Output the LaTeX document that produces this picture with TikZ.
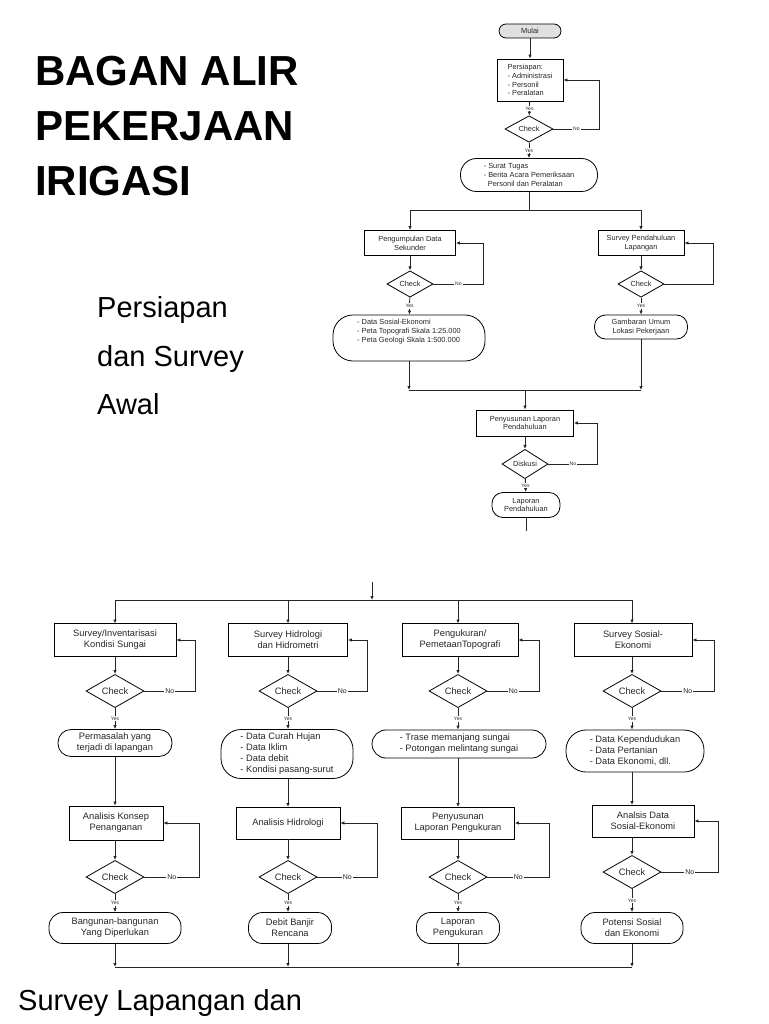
\documentclass[tikz,border=0pt]{standalone}
\usepackage{fontspec}
\setmainfont{Liberation Sans}
\usetikzlibrary{shapes.geometric,arrows.meta}
\begin{document}
\begin{tikzpicture}[x=1pt,y=-1pt,
  every node/.style={inner sep=0pt,text=black!85},
  bx/.style={draw,line width=0.8pt,align=center},
  tm/.style={draw,line width=0.8pt,rounded corners=11pt,align=center},
  dc/.style={draw,diamond,line width=0.8pt,minimum width=48pt,minimum height=20pt},
  ln/.style={line width=0.9pt,draw=black!85},
  arr/.style={ln,-{Latex[length=4pt,width=3.5pt]}},
  lbl/.style={fill=white,inner sep=1pt,font=\fontsize{5}{6}\selectfont},
  ttl/.style={anchor=base west,font=\fontsize{42}{50}\bfseries,text=black},
  sub/.style={anchor=base west,font=\fontsize{29}{35}\selectfont,text=black},
  s/.style={font=\fontsize{7.4}{8.8}\selectfont},
  m/.style={font=\fontsize{9.3}{11}\selectfont}]
\useasboundingbox (0,0) rectangle (768,1024);
% titles
\node[ttl] (t1a) at (35,86) {BAGAN ALIR};
\node[ttl] (t1b) at (35,141) {PEKERJAAN};
\node[ttl] (t1c) at (35,196) {IRIGASI};
\node[sub] (t2a) at (97,317) {Persiapan};
\node[sub] (t2b) at (97,366) {dan Survey};
\node[sub] (t2c) at (97,414) {Awal};
\node[sub] (t3) at (18,1010) {Survey Lapangan dan};
% ---------- top section ----------
\begin{scope}[s]
\node[tm,fill=black!12,rounded corners=7pt,minimum width=62pt,minimum height=14pt] (mul) at (530,31) {Mulai};
\node[bx,align=left,minimum width=66pt,minimum height=42pt] (per) at (530,80) {Persiapan:\\- Administrasi\\- Personil\\- Peralatan};
\node[dc] (c0) at (529,129) {Check};
\node[tm,align=left,minimum width=137pt,minimum height=33pt,rounded corners=16pt] (sur) at (529,175) {- Surat Tugas\\- Berita Acara Pemeriksaan\\\ \ Personil dan Peralatan};
\node[bx,minimum width=91pt,minimum height=25pt] (pd) at (410,243) {Pengumpulan Data\\Sekunder};
\node[bx,minimum width=86pt,minimum height=25pt] (sp) at (641,243) {Survey Pendahuluan\\Lapangan};
\node[dc,minimum width=46pt] (cl) at (410,284) {Check};
\node[dc,minimum width=46pt] (cr) at (641,284) {Check};
\node[tm,align=left,minimum width=152pt,minimum height=46pt,rounded corners=20pt] (ds) at (409,338) {- Data Sosial-Ekonomi\\- Peta Topografi Skala 1:25.000\\- Peta Geologi Skala 1:500.000\\[6pt]};
\node[tm,minimum width=93pt,minimum height=24pt] (gu) at (641,327) {Gambaran Umum\\Lokasi Pekerjaan};
\node[bx,minimum width=97pt,minimum height=26pt] (pl) at (525,423) {Penyusunan Laporan\\Pendahuluan};
\node[dc,minimum width=46pt] (dk) at (525,464) {Diskusi};
\node[tm,minimum width=68pt,minimum height=25pt] (lp) at (526,505) {Laporan\\Pendahuluan};
\end{scope}
\coordinate (lpe) at (526,531);
\draw[arr] (mul) -- (per);
\draw[arr] (per) -- node[lbl]{Yes} (c0);
\draw[arr] (c0.east) -- node[lbl]{No} ++(46,0) |- (per.east);
\draw[arr] (c0) -- node[lbl]{Yes} (sur);
\draw[ln] (sur.south) -- ++(0,19) coordinate (sj);
\draw[arr] (sj) -| (pd.north);
\draw[arr] (sj) -| (sp.north);
\draw[arr] (pd) -- (cl);
\draw[arr] (sp) -- (cr);
\draw[arr] (cl.east) -- node[lbl]{No} ++(50,0) |- (pd.east);
\draw[arr] (cr.east) -- ++(49,0) |- (sp.east);
\draw[arr] (cl) -- node[lbl]{Yes} (ds);
\draw[arr] (cr) -- node[lbl]{Yes} (gu);
\coordinate (mj) at (525,390);
\draw[arr] (ds.south) -- (ds.south |- mj);
\draw[arr] (gu.south) -- (gu.south |- mj);
\draw[ln] (ds.south |- mj) -- (gu.south |- mj);
\draw[arr] (mj) -- (pl);
\draw[arr] (pl) -- (dk);
\draw[arr] (dk.east) -- node[lbl]{No} ++(49,0) |- (pl.east);
\draw[arr] (dk) -- node[lbl]{Yes} (lp);
\draw[ln] (lp) -- (lpe);
% ---------- bottom section ----------
\begin{scope}[m]
\node[bx,minimum width=122pt,minimum height=33pt] (a1) at (115,640) {Survey/Inventarisasi\\Kondisi Sungai};
\node[bx,minimum width=119pt,minimum height=33pt] (a2) at (288,640) {Survey Hidrologi\\dan Hidrometri};
\node[bx,minimum width=116pt,minimum height=33pt] (a3) at (460,640) {Pengukuran/\\PemetaanTopografi};
\node[bx,minimum width=118pt,minimum height=33pt] (a4) at (633,640) {Survey Sosial-\\Ekonomi};
\foreach \i/\x in {1/115,2/288,3/458,4/632}
  \node[dc,minimum width=58pt,minimum height=24pt] (k\i) at (\x,691) {Check};
\node[tm,minimum width=114pt,minimum height=27pt,rounded corners=13pt] (r1) at (115,743) {Permasalah yang\\terjadi di lapangan};
\node[tm,align=left,minimum width=132pt,minimum height=49pt,rounded corners=20pt] (r2) at (287,754) {- Data Curah Hujan\\- Data Iklim\\- Data debit\\- Kondisi pasang-surut};
\node[tm,align=left,minimum width=174pt,minimum height=28pt,rounded corners=14pt] (r3) at (459,744) {- Trase memanjang sungai\\- Potongan melintang sungai};
\node[tm,align=left,minimum width=138pt,minimum height=42pt,rounded corners=20pt] (r4) at (635,751) {- Data Kependudukan\\- Data Pertanian\\- Data Ekonomi, dll.};
\node[bx,minimum width=94pt,minimum height=34pt] (b1) at (116,823) {Analisis Konsep\\Penanganan};
\node[bx,minimum width=104pt,minimum height=32pt] (b2) at (288,823) {Analisis Hidrologi};
\node[bx,minimum width=113pt,minimum height=32pt] (b3) at (458,823) {Penyusunan\\Laporan Pengukuran};
\node[bx,minimum width=102pt,minimum height=32pt] (b4) at (643,821) {Analsis Data\\Sosial-Ekonomi};
\node[dc,minimum width=58pt,minimum height=24pt] (q1) at (115,877) {Check};
\node[dc,minimum width=58pt,minimum height=24pt] (q2) at (288,877) {Check};
\node[dc,minimum width=58pt,minimum height=24pt] (q3) at (458,877) {Check};
\node[dc,minimum width=58pt,minimum height=24pt] (q4) at (632,872) {Check};
\node[tm,minimum width=132pt,minimum height=31pt,rounded corners=14pt] (e1) at (115,928) {Bangunan-bangunan\\Yang Diperlukan};
\node[tm,minimum width=83pt,minimum height=31pt,rounded corners=14pt] (e2) at (290,928) {Debit Banjir\\Rencana};
\node[tm,minimum width=83pt,minimum height=31pt,rounded corners=14pt] (e3) at (458,928) {Laporan\\Pengukuran};
\node[tm,minimum width=102pt,minimum height=31pt,rounded corners=14pt] (e4) at (632,928) {Potensi Sosial\\dan Ekonomi};
\end{scope}
\coordinate (top) at (372,582);
\coordinate (tj) at (372,600);
\draw[arr] (top) -- (tj);
\draw[ln] (a1.north |- tj) -- (632,600);
\foreach \i/\x in {1/115,2/288,3/458,4/632}{
  \draw[arr] (\x,600) -- (\x,623.5);
  \draw[arr] (\x,656.5) -- (k\i.north);
}
\foreach \i in {1,2,3,4}{
  \draw[arr] (k\i) -- node[lbl]{Yes} (k\i |- r\i.north);
}
\draw[arr] (k1.east) -- node[lbl,font=\fontsize{7}{8}\selectfont]{No} ++(51,0) |- (a1.east);
\draw[arr] (k2.east) -- node[lbl,font=\fontsize{7}{8}\selectfont]{No} ++(50,0) |- (a2.east);
\draw[arr] (k3.east) -- node[lbl,font=\fontsize{7}{8}\selectfont]{No} ++(52,0) |- (a3.east);
\draw[arr] (k4.east) -- node[lbl,font=\fontsize{7}{8}\selectfont]{No} ++(53,0) |- (a4.east);
\draw[arr] (115,756.5) -- (b1.north -| 115,0);
\draw[arr] (288,778.5) -- (288,807);
\draw[arr] (458,758) -- (458,807);
\draw[arr] (632,772) -- (632,805);
\draw[arr] (115,840) -- (q1.north);
\draw[arr] (288,839) -- (q2.north);
\draw[arr] (458,839) -- (q3.north);
\draw[arr] (632,837) -- (q4.north);
\draw[arr] (q1.east) -- node[lbl,font=\fontsize{7}{8}\selectfont]{No} ++(55,0) |- (b1.east);
\draw[arr] (q2.east) -- node[lbl,font=\fontsize{7}{8}\selectfont]{No} ++(60,0) |- (b2.east);
\draw[arr] (q3.east) -- node[lbl,font=\fontsize{7}{8}\selectfont]{No} ++(62,0) |- (b3.east);
\draw[arr] (q4.east) -- node[lbl,font=\fontsize{7}{8}\selectfont]{No} ++(57,0) |- (b4.east);
\draw[arr] (q1) -- node[lbl]{Yes} (q1 |- e1.north);
\draw[arr] (q2) -- node[lbl]{Yes} (q2 |- e2.north);
\draw[arr] (q3) -- node[lbl]{Yes} (q3 |- e3.north);
\draw[arr] (q4) -- node[lbl]{Yes} (q4 |- e4.north);
\foreach \x in {115,288,458,632}
  \draw[arr] (\x,943.5) -- (\x,967);
\draw[ln] (115,967) -- (632,967);
\end{tikzpicture}
\end{document}
